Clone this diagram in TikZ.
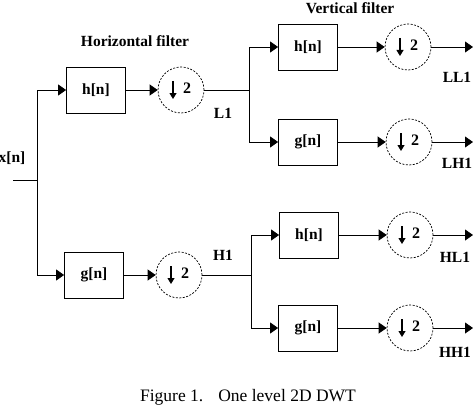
\documentclass[tikz,border=0pt]{standalone}
\usepackage{fontspec}
\setmainfont{Liberation Serif}
\usepackage{xcolor}
\usepackage{tikz}
\usetikzlibrary{arrows.meta}
\definecolor{ink}{HTML}{000000}
\definecolor{paper}{HTML}{FFFFFF}
\tikzset{
  wire/.style={draw=ink, line width=0.8pt},
  arr/.style={draw=ink, line width=0.8pt, -{Triangle[length=8pt,width=11pt]}},
  darr/.style={draw=ink, line width=1.1pt, -{Triangle[length=6pt,width=7pt]}},
  filt/.style={draw=ink, line width=0.8pt, minimum width=59pt, minimum height=46pt, inner sep=0pt, font=\fontsize{15.5}{17}\selectfont\bfseries},
  dsamp/.style={circle, draw=ink, line width=0.7pt, dash pattern=on 2pt off 1.5pt, minimum size=46pt, inner sep=0pt, font=\fontsize{16}{17}\selectfont\bfseries},
  lab/.style={text=ink, inner sep=0pt, font=\fontsize{15.5}{17}\selectfont\bfseries},
  figcap/.style={text=ink, inner sep=0pt, font=\fontsize{17.5}{19}\selectfont},
}

\begin{document}
\begin{tikzpicture}[x=1pt,y=-1pt]
  \useasboundingbox[fill=paper] (0,0) rectangle (474,412);

  % horizontal filter
  \node[filt] (h) at (96,90) {h[n]};
  \node[filt] (g) at (94,275) {g[n]};
  \node[dsamp] (dh) at (181,90) {\hspace*{12pt}\raisebox{3pt}{2}};
  \node[dsamp] (dg) at (179,275) {\hspace*{12pt}\raisebox{3pt}{2}};

  \coordinate (xin) at (13,180);
  \coordinate (j0) at (37,180);
  \coordinate (jl) at (249,90);
  \coordinate (jh) at (251,275);

  % vertical filter
  \node[filt] (lh) at (308,47) {h[n]};
  \node[filt] (lg) at (308,142) {g[n]};
  \node[filt] (hh) at (309,235) {h[n]};
  \node[filt] (hg) at (308,328) {g[n]};
  \node[dsamp] (dlh) at (408,47) {\hspace*{12pt}\raisebox{3pt}{2}};
  \node[dsamp] (dlg) at (409,142) {\hspace*{12pt}\raisebox{3pt}{2}};
  \node[dsamp] (dhh) at (410,235) {\hspace*{12pt}\raisebox{3pt}{2}};
  \node[dsamp] (dhg) at (410,328) {\hspace*{12pt}\raisebox{3pt}{2}};

  \coordinate (oll) at (473,47);
  \coordinate (olh) at (473,142);
  \coordinate (ohl) at (473,235);
  \coordinate (ohh) at (473,328);

  % down arrows inside the circles
  \foreach \d in {dh,dg,dlh,dlg,dhh,dhg}{
    \draw[darr] ([xshift=-8pt,yshift=9pt]\d.center) -- ([xshift=-8pt,yshift=-9pt]\d.center);
  }

  \draw[wire] (xin) -- (j0);
  \draw[arr] (j0) |- (h.west);
  \draw[arr] (j0) |- (g.west);
  \draw[arr] (h) -- (dh);
  \draw[arr] (g) -- (dg);
  \draw[wire] (dh.east) -- (jl);
  \draw[wire] (dg.east) -- (jh);

  \draw[arr] (jl) |- (lh.west);
  \draw[arr] (jl) |- (lg.west);
  \draw[arr] (jh) |- (hh.west);
  \draw[arr] (jh) |- (hg.west);

  \foreach \f/\d/\o in {lh/dlh/oll, lg/dlg/olh, hh/dhh/ohl, hg/dhg/ohh}{
    \draw[arr] (\f) -- (\d);
    \draw[arr] (\d.east) -- (\o);
  }

  % labels
  \node[lab] (tx) at (12,158) {x[n]};
  \node[lab] (thf) at (135,41) {Horizontal filter};
  \node[lab] (tvf) at (350,8) {Vertical filter};
  \node[lab] (tl1) at (223,113) {L1};
  \node[lab] (th1) at (223,255) {H1};
  \node[lab] (tll) at (457,77) {LL1};
  \node[lab] (tlh) at (457,163) {LH1};
  \node[lab] (thl) at (455,257) {HL1};
  \node[lab] (thh) at (455,352) {HH1};

  \node[figcap] (fig) at (248,397) {Figure 1.\hspace{15pt}One level 2D DWT};
\end{tikzpicture}
\end{document}
